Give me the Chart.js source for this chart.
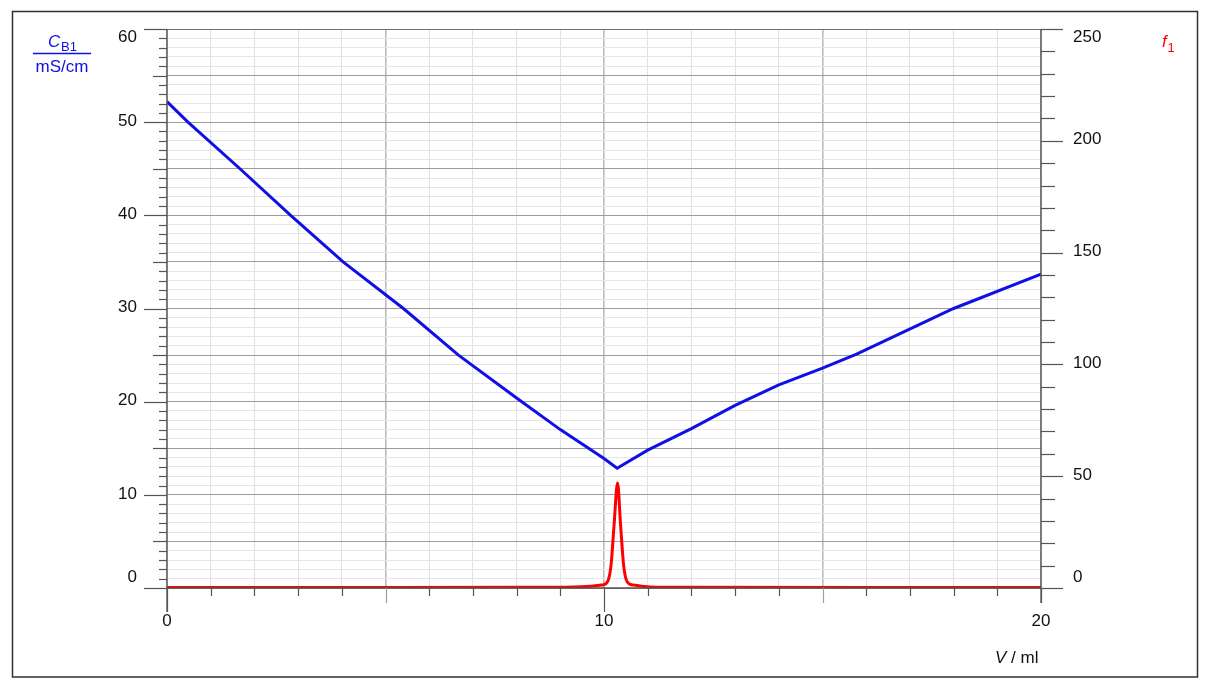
<!DOCTYPE html>
<html>
<head>
<meta charset="utf-8">
<script src="https://cdn.jsdelivr.net/npm/chart.js@4.4.1/dist/chart.umd.min.js"></script>
<style>
  html, body { margin: 0; padding: 0; background: #fff; }
  canvas { display: block; }
</style>
</head>
<body>
<canvas id="chart" width="1211" height="690"></canvas>
<script>
// conductometric titration: conductivity C_B1 and its derivative f1 vs added volume V
const volumeC = [0, 0.48, 1.67, 2.83, 4.03, 5.41, 6.67, 8.0, 9.0, 10.0, 10.30, 11.0, 12.0, 13.0, 14.0, 15.0, 15.78, 18.0, 20];
const conductivity = [52.2, 50.0, 45.0, 40.0, 35.0, 30.0, 25.0, 20.4, 17.0, 13.9, 12.85, 14.8, 17.1, 19.6, 21.8, 23.6, 25.1, 30.0, 33.7];

const volumeF = [0, 4, 8, 9.3, 9.68, 9.95, 10.08, 10.16, 10.23, 10.31, 10.38, 10.45, 10.53, 10.68, 11.05, 12, 16, 20];
const derivative = [0.2, 0.2, 0.3, 0.5, 0.8, 1.3, 2.8, 10, 28, 47, 28, 10, 2.8, 1.3, 0.5, 0.3, 0.2, 0.2];

const xTickLabels = [0, 10, 20];
const leftTickLabels = [0, 10, 20, 30, 40, 50, 60];
const rightTickLabels = [0, 50, 100, 150, 200, 250];

const FONT = "'Liberation Sans', Arial, sans-serif";
const BLUE = '#1010e6';
const RED = '#ff0000';

function range(a, b, step) {
    const out = [];
    for (let v = a; v <= b + 1e-9; v += step) out.push(v);
    return out;
}

function line(ctx, x1, y1, x2, y2) {
    ctx.beginPath();
    ctx.moveTo(x1, y1);
    ctx.lineTo(x2, y2);
    ctx.stroke();
}

// ticks, axis lines, labels and titles drawn on top of the grid
const decor = {
    id: 'decor',
    afterDatasetsDraw(chart) {
        const { ctx, chartArea: a, scales } = chart;
        const sx = scales.x, sl = scales.y, sr = scales.y1;
        ctx.save();

        // top border line (60)
        ctx.strokeStyle = '#707070';
        ctx.lineWidth = 1;
        line(ctx, a.left, a.top + 0.5, a.right, a.top + 0.5);

        // axis lines
        ctx.strokeStyle = '#505050';
        ctx.lineWidth = 1.3;
        line(ctx, a.left, a.top, a.left, a.bottom + 24);
        line(ctx, a.right, a.top, a.right, a.bottom + 15);
        line(ctx, a.left, a.bottom, a.right, a.bottom);

        // left ticks
        ctx.lineWidth = 1.2;
        range(0, 60, 1).forEach(v => {
            const py = Math.round(sl.getPixelForValue(v)) + 0.5;
            const len = v % 10 === 0 ? 23 : v % 5 === 0 ? 14 : 8;
            ctx.strokeStyle = '#555';
            line(ctx, a.left - len, py, a.left, py);
        });
        // right ticks
        range(0, 250, 10).forEach(v => {
            const py = Math.round(sr.getPixelForValue(v)) + 0.5;
            const len = v % 50 === 0 ? 22 : 14;
            ctx.strokeStyle = '#555';
            line(ctx, a.right, py, a.right + len, py);
        });
        // bottom ticks
        range(0, 20, 1).forEach(v => {
            const px = Math.round(sx.getPixelForValue(v)) + 0.5;
            let len = v % 10 === 0 ? 24 : v % 5 === 0 ? 15 : 8;
            if (v === 20) len = 15;
            ctx.strokeStyle = v % 5 === 0 && v % 10 !== 0 ? '#a0a0a0' : '#555';
            line(ctx, px, a.bottom, px, a.bottom + len);
        });

        // tick labels
        ctx.fillStyle = '#111';
        ctx.font = '17px ' + FONT;
        const labelY = py => Math.abs(py - a.top) < 1 ? a.top + 8.5
            : Math.abs(py - a.bottom) < 1 ? a.bottom - 10.5 : py - 1;

        ctx.textBaseline = 'middle';
        ctx.textAlign = 'right';
        leftTickLabels.forEach(v => {
            ctx.fillText(String(v), 137, labelY(sl.getPixelForValue(v)));
        });
        ctx.textAlign = 'left';
        rightTickLabels.forEach(v => {
            ctx.fillText(String(v), 1073, labelY(sr.getPixelForValue(v)));
        });
        ctx.textAlign = 'center';
        xTickLabels.forEach(v => {
            ctx.fillText(String(v), sx.getPixelForValue(v), 621.5);
        });

        // x axis title: V / ml
        ctx.textBaseline = 'alphabetic';
        ctx.textAlign = 'left';
        ctx.font = 'italic 17px ' + FONT;
        ctx.fillText('V', 995, 663);
        const vw = ctx.measureText('V').width;
        ctx.font = '17px ' + FONT;
        ctx.fillText(' / ml', 995 + vw, 663);

        // left axis title: C_B1 over mS/cm
        ctx.fillStyle = BLUE;
        ctx.strokeStyle = BLUE;
        ctx.font = 'italic 17px ' + FONT;
        ctx.fillText('C', 48, 47);
        ctx.font = '13px ' + FONT;
        ctx.fillText('B1', 61, 51);
        ctx.lineWidth = 1.3;
        line(ctx, 33, 53.5, 91, 53.5);
        ctx.font = '17px ' + FONT;
        ctx.textAlign = 'center';
        ctx.fillText('mS/cm', 62, 72);

        // right axis title: f_1
        ctx.fillStyle = RED;
        ctx.textAlign = 'left';
        ctx.font = 'italic 17px ' + FONT;
        ctx.fillText('f', 1162, 47);
        ctx.font = '13px ' + FONT;
        ctx.fillText('1', 1167.5, 51.5);

        // outer frame
        ctx.strokeStyle = '#2b303b';
        ctx.lineWidth = 1.5;
        ctx.strokeRect(12.5, 11.5, 1185, 665.5);

        ctx.restore();
    }
};

new Chart(document.getElementById('chart'), {
    type: 'line',
    data: {
        datasets: [
            {
                label: 'C_B1',
                data: volumeC.map((v, i) => ({ x: v, y: conductivity[i] })),
                yAxisID: 'y',
                borderColor: BLUE,
                borderWidth: 3,
                pointRadius: 0,
                tension: 0,
            },
            {
                label: 'f1',
                data: volumeF.map((v, i) => ({ x: v, y: derivative[i] })),
                yAxisID: 'y1',
                borderColor: RED,
                borderWidth: 3,
                pointRadius: 0,
                cubicInterpolationMode: 'monotone',
            },
        ],
    },
    options: {
        responsive: false,
        animation: false,
        events: [],
        layout: { padding: { top: 29, left: 0, right: 0, bottom: 0 } },
        plugins: { legend: { display: false }, tooltip: { enabled: false } },
        scales: {
            x: {
                type: 'linear', min: 0, max: 20,
                afterBuildTicks: s => { s.ticks = range(0, 20, 1).map(value => ({ value })); },
                afterFit: s => { s.height = 102; },
                ticks: { display: false },
                border: { display: false },
                grid: {
                    drawTicks: false,
                    color: c => c.tick.value % 5 === 0 ? '#bcbcbc' : '#e0e0e0',
                    lineWidth: c => c.tick.value % 5 === 0 ? 1.6 : 1,
                },
            },
            y: {
                type: 'linear', position: 'left', min: 0, max: 60,
                afterBuildTicks: s => { s.ticks = range(0, 60, 1).map(value => ({ value })); },
                afterFit: s => { s.width = 167; },
                ticks: { display: false },
                border: { display: false },
                grid: {
                    drawTicks: false,
                    color: c => c.tick.value % 5 === 0 ? '#9c9c9c' : '#e6e6e6',
                    lineWidth: 1,
                },
            },
            y1: {
                type: 'linear', position: 'right', min: 0, max: 250,
                afterBuildTicks: s => { s.ticks = range(0, 250, 10).map(value => ({ value })); },
                afterFit: s => { s.width = 170; },
                ticks: { display: false },
                border: { display: false },
                grid: { display: false, drawTicks: false },
            },
        },
    },
    plugins: [decor],
});
</script>
</body>
</html>
